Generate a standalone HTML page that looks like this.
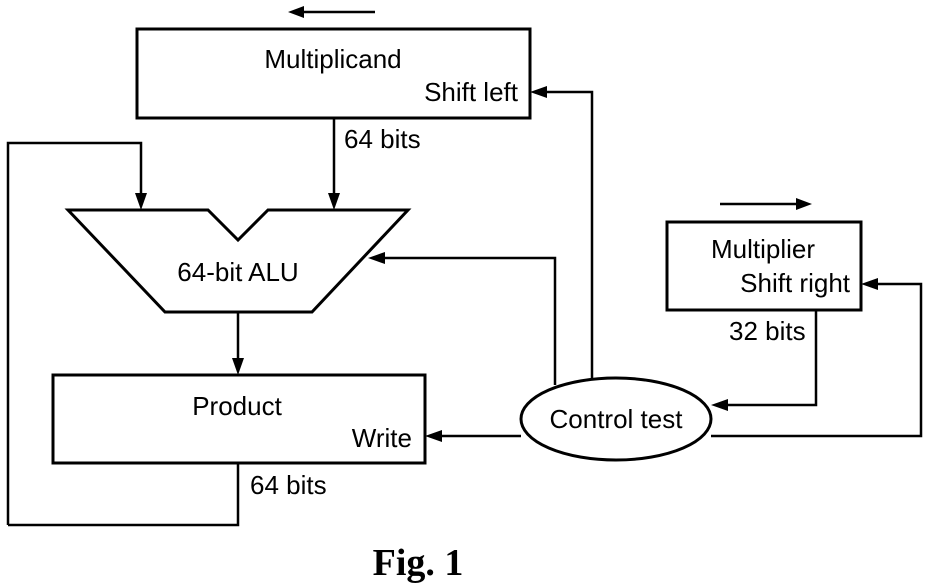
<!DOCTYPE html>
<html><head><meta charset="utf-8"><style>body{margin:0;background:#fff}svg{display:block}</style></head><body>
<svg width="928" height="588" viewBox="0 0 928 588" xmlns="http://www.w3.org/2000/svg">
<g fill="none" stroke="#000" stroke-width="3">
<rect x="137" y="29" width="393" height="89"/>
<rect x="53" y="375" width="372" height="88"/>
<rect x="667" y="222" width="194" height="88"/>
<ellipse cx="616" cy="419" rx="95" ry="41"/>
<polygon points="68,210 208,210 238,240 268,210 408,210 312,312 165,312"/>
</g>
<g fill="none" stroke="#000" stroke-width="2.5">
<line x1="300" y1="12" x2="375" y2="12"/>
<line x1="720" y1="204" x2="800" y2="204"/>
<polyline points="334,118 334,195"/>
<polyline points="8,525 8,143 141,143 141,195"/>
<polyline points="8,525 238,525 238,463"/>
<polyline points="238,312 238,360"/>
<polyline points="521,436 440,436"/>
<polyline points="555,385 555,258 385,258"/>
<polyline points="592,378 592,92 545,92"/>
<polyline points="711,436 921,436 921,284 876,284"/>
<polyline points="816,310 816,405 726,405"/>
</g>
<g fill="#000">
<polygon points="288,12 304,6 304,18"/>
<polygon points="812,204 796,198 796,210"/>
<polygon points="334,210 328,193 340,193"/>
<polygon points="141,210 135,193 147,193"/>
<polygon points="238,375 232,358 244,358"/>
<polygon points="425,436 442,430 442,442"/>
<polygon points="368,258 385,252 385,264"/>
<polygon points="530,92 547,86 547,98"/>
<polygon points="861,284 878,278 878,290"/>
<polygon points="711,405 728,399 728,411"/>
</g>
<g font-family="Liberation Sans, sans-serif" font-size="26" fill="#000">
<text x="333" y="68" text-anchor="middle">Multiplicand</text>
<text x="518" y="101" text-anchor="end">Shift left</text>
<text x="344" y="148">64 bits</text>
<text x="238" y="281" text-anchor="middle">64-bit ALU</text>
<text x="237" y="415" text-anchor="middle">Product</text>
<text x="412" y="447" text-anchor="end">Write</text>
<text x="250" y="494">64 bits</text>
<text x="616" y="428" text-anchor="middle">Control test</text>
<text x="763" y="258" text-anchor="middle">Multiplier</text>
<text x="850" y="292" text-anchor="end">Shift right</text>
<text x="729" y="340">32 bits</text>
</g>
<text x="418" y="575" text-anchor="middle" font-family="Liberation Serif, serif" font-weight="bold" font-size="38">Fig. 1</text>
</svg>
</body></html>
